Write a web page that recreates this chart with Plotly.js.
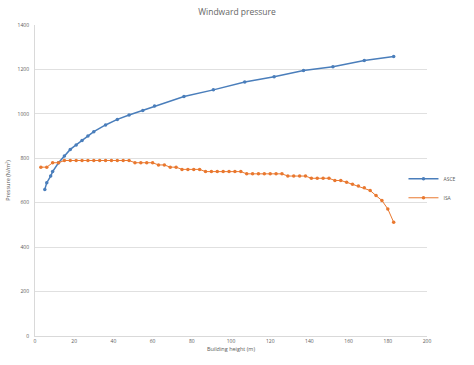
<!DOCTYPE html>
<html>
<head>
<meta charset="utf-8">
<script src="https://cdn.plot.ly/plotly-3.0.1.min.js"></script>
<style>html,body{margin:0;padding:0;background:#fff;}#chart{width:474px;height:365px;}</style>
</head>
<body>
<div id="chart"></div>
<script>
// ASCE series
const asceHeight = [5, 6, 8, 9, 12, 15, 18, 21, 24, 27, 30, 36, 42, 48, 55, 61, 76, 91, 107, 122, 137, 152, 168, 183];
const ascePressure = [660, 690, 720, 740, 780, 810, 840, 860, 880, 900, 920, 950, 975, 995, 1015, 1035, 1078, 1108, 1143, 1167, 1195, 1212, 1240, 1258];

// ISA series
const isaHeight = [3, 6, 9, 12, 15, 18, 21, 24, 27, 30, 33, 36, 39, 42, 45, 48, 51, 54, 57, 60,
  63, 66, 69, 72, 75, 78, 81, 84, 87, 90, 93, 96, 99, 102, 105, 108, 111, 114, 117, 120,
  123, 126, 129, 132, 135, 138, 141, 144, 147, 150, 153, 156, 159, 162, 165, 168, 171, 174, 177, 180, 183];
const isaPressure = [760, 760, 780, 780, 790, 790, 790, 790, 790, 790, 790, 790, 790, 790, 790, 790, 780, 780, 780, 780,
  770, 770, 760, 760, 750, 750, 750, 750, 740, 740, 740, 740, 740, 740, 740, 730, 730, 730, 730, 730,
  730, 730, 720, 720, 720, 720, 710, 710, 710, 710, 700, 700, 692, 683, 675, 667, 655, 632, 610, 572, 512];

const seriesNames = ['ASCE', 'ISA'];
const titleText = 'Windward pressure';
const xTitle = 'Building height (m)';
const yTitle = 'Pressure (N/m<sup>2</sup>)';

const grey = '#595959';
const traces = [
  {x: asceHeight, y: ascePressure, name: seriesNames[0], mode: 'lines+markers', type: 'scatter',
   line: {color: '#4A7EBB', width: 1.5}, marker: {color: '#4A7EBB', size: 3.5}},
  {x: isaHeight, y: isaPressure, name: seriesNames[1], mode: 'lines+markers', type: 'scatter',
   line: {color: '#E9782F', width: 1}, marker: {color: '#E9782F', size: 3.5}}
];

const layout = {
  width: 474, height: 365,
  margin: {l: 35, r: 47, t: 25, b: 29},
  paper_bgcolor: '#fff', plot_bgcolor: '#fff',
  font: {family: 'Open Sans, Liberation Sans, sans-serif', color: grey, size: 5},
  title: {text: titleText, font: {size: 8.5, color: '#666'}, x: 0.5, xanchor: 'center', y: 0.968, yanchor: 'middle'},
  xaxis: {range: [0, 200], dtick: 20, tick0: 0, showgrid: false, zeroline: false,
    showline: true, linecolor: '#d9d9d9', linewidth: 1, ticks: '',
    tickfont: {size: 5, color: grey},
    title: {text: xTitle, font: {size: 5.5, color: grey}, standoff: 4}},
  yaxis: {range: [0, 1400], dtick: 200, tick0: 0, showgrid: true, gridcolor: '#e0e0e0', gridwidth: 1,
    zeroline: false, showline: true, linecolor: '#d9d9d9', linewidth: 1, ticks: '',
    tickfont: {size: 5, color: grey}, ticklabelstandoff: 4,
    title: {text: yTitle, font: {size: 5.5, color: grey}, standoff: 6}},
  showlegend: true,
  legend: {x: 0.94, xanchor: 'left', y: 0.475, yanchor: 'middle', itemwidth: 30,
    font: {size: 5, color: grey}, bgcolor: 'rgba(0,0,0,0)', tracegroupgap: 0}
};

Plotly.newPlot('chart', traces, layout, {displayModeBar: false, staticPlot: true});
</script>
</body>
</html>
